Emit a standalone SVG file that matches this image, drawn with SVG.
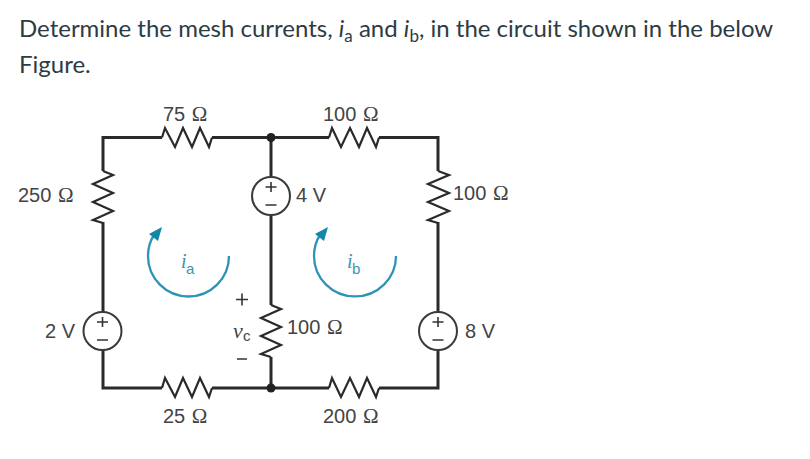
<svg xmlns="http://www.w3.org/2000/svg" width="810" height="459" viewBox="0 0 810 459">
<defs>
<style>
.q{font-family:Lato,"Liberation Sans",sans-serif;font-size:24px;fill:#2d3b45}
.l{font-family:"Liberation Sans",Arial,sans-serif;font-size:20px;fill:#444}
.o{font-family:"Liberation Serif",serif;font-size:21px}
.w{fill:none;stroke:#2a2a2a;stroke-width:3;stroke-linejoin:miter}
.r{fill:none;stroke:#2a2a2a;stroke-width:2.2;stroke-linejoin:miter}
.s{fill:#fff;stroke:#3a3a3a;stroke-width:2}
.p{fill:none;stroke:#333;stroke-width:1.6}
.a{fill:none;stroke:#2f93b5;stroke-width:2.3}
.h{fill:#1387a9}
.i{font-family:"Liberation Serif",serif;font-style:italic;font-size:20px;fill:#3a95b5}
.b{font-family:"Liberation Sans",Arial,sans-serif;font-size:15px;fill:#3a95b5}
</style>
</defs>
<rect width="810" height="459" fill="#fff"/>
<g id="question">
<text class="q" x="19" y="37">Determine the mesh currents, <tspan font-style="italic">i</tspan><tspan font-size="17" dy="5">a</tspan><tspan dy="-5"> and </tspan><tspan font-style="italic">i</tspan><tspan font-size="17" dy="5">b</tspan><tspan dy="-5">, in the circuit shown in the below</tspan></text>
<text class="q" x="19" y="73">Figure.</text>
</g>
<g id="connectors">
<path class="w" d="M162 137.500H103V171M103 222V312M103 350V388H162M212 388H271M212 137.500H271M271 137.500V177M271 215V305M271 357V388M271 137.500H329M379 137.500H438V171M438 222V312M438 350V388H379M329 388H271"/>
<circle cx="271" cy="137.500" r="4.500" fill="#222"/>
<circle cx="271" cy="388" r="4.500" fill="#222"/>
</g>
<g id="r75"><path class="r" d="M162 137.500L165 128L175 147L183 128L192 147L200 128L209 147L212 137.500"/><text class="l" x="163" y="121">75 <tspan class="o" dx="1">Ω</tspan></text></g>
<g id="r100top"><path class="r" d="M329 137.500L332 128L341 147L350 128L359 147L367 128L376 147L379 137.500"/><text class="l" x="323" y="121">100 <tspan class="o" dx="1">Ω</tspan></text></g>
<g id="r250"><path class="r" d="M103 171L113 175L93 184L113 193L93 202L113 211L93 220L103 223"/><text class="l" x="18" y="202">250 <tspan class="o" dx="1">Ω</tspan></text></g>
<g id="r100right"><path class="r" d="M438 171L449 175L428 184L449 193L428 202L449 211L428 220L438 223"/><text class="l" x="453" y="200">100 <tspan class="o" dx="1">Ω</tspan></text></g>
<g id="r100mid"><path class="r" d="M271 305L281 309L261 318L281 327L261 336L281 345L261 354L271 357"/><text class="l" x="287" y="334">100 <tspan class="o" dx="1">Ω</tspan></text></g>
<g id="r25"><path class="r" d="M162 388L165 378L175 397L183 378L192 397L200 378L209 397L212 388"/><text class="l" x="163" y="423">25 <tspan class="o" dx="1">Ω</tspan></text></g>
<g id="r200"><path class="r" d="M329 388L332 378L341 397L350 378L359 397L367 378L376 397L379 388"/><text class="l" x="323" y="423">200 <tspan class="o" dx="1">Ω</tspan></text></g>
<g id="v2"><circle class="s" cx="102.500" cy="331" r="19"/><path class="p" d="M97 322H108M102.500 317V327M97 340H108"/><text class="l" x="45" y="338">2 V</text></g>
<g id="v4"><circle class="s" cx="271" cy="196" r="19"/><path class="p" d="M265.500 187H276.500M271 182V192M265.500 205H276.500"/><text class="l" x="296" y="202">4 V</text></g>
<g id="v8"><circle class="s" cx="438" cy="331" r="19"/><path class="p" d="M432.500 322H443.500M438 317V327M432.500 340H443.500"/><text class="l" x="465" y="338">8 V</text></g>
<g id="vc">
<path class="p" d="M236 299.500H248M242 293.500V305.500M237 359H247"/>
<text x="233" y="338" font-family="Liberation Serif,serif" font-style="italic" font-size="22" fill="#444">v</text>
<text x="243" y="341" font-family="Liberation Sans,Arial,sans-serif" font-size="15" fill="#444">c</text>
</g>
<g id="ia">
<path class="a" d="M229 256A40.500 40.500 0 0 1 148 256C148 248 150 241 154 235"/>
<path class="h" d="M162 227L158 241L149 234Z"/>
<text class="i" x="181" y="268">i</text><text class="b" x="186" y="274">a</text>
</g>
<g id="ib">
<path class="a" d="M396 256A41 40.500 0 0 1 314 256C314 248 316 241 320 235"/>
<path class="h" d="M328 227L324 241L315 234Z"/>
<text class="i" x="347" y="268">i</text><text class="b" x="352" y="274">b</text>
</g>
</svg>
